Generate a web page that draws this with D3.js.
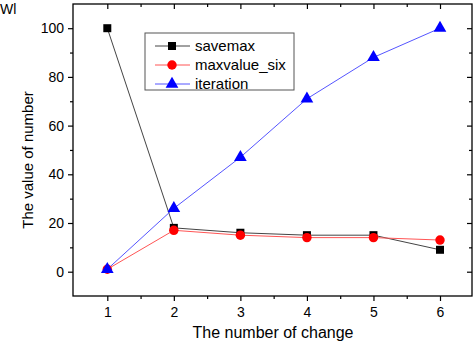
<!DOCTYPE html>
<html><head><meta charset="utf-8">
<script src="https://cdn.jsdelivr.net/npm/d3@7"></script>
<style>body{margin:0;background:#fff}svg{display:block;font-family:Arial,"Liberation Sans",sans-serif}</style>
</head><body>
<svg id="c" width="474" height="345"></svg>
<script>
const changes = [1, 2, 3, 4, 5, 6];
const savemax = [100, 18, 16, 15, 15, 9];
const maxvalueSix = [1, 17, 15, 14, 14, 13];
const iteration = [1, 26, 47, 71, 88, 100];
const seriesNames = ["savemax", "maxvalue_six", "iteration"];
const yTicks = [0, 20, 40, 60, 80, 100];
const xTicks = [1, 2, 3, 4, 5, 6];

const svg = d3.select("#c");
const L = 73, R = 472, T = 4, B = 296;
const y0 = 271.7, y100 = 28.2, per = (y0 - y100) / 100;
const y = d3.scaleLinear().domain([(y0 - B) / per, (y0 - T) / per]).range([B, T]);
const x1 = 107.3, x6 = 440, perx = (x6 - x1) / 5;
const x = d3.scaleLinear().domain([1 - (x1 - L) / perx, 1 + (R - x1) / perx]).range([L, R]);

const minorX = d3.range(1, 6.01, 0.5).filter(v => v % 1 !== 0);
const minorY = d3.range(10, 101, 20);

// axes
const gx = svg.append("g").attr("transform", `translate(0,${B})`)
  .call(d3.axisBottom(x).tickValues(xTicks).tickSize(5).tickPadding(6).tickFormat(d3.format("d")));
const gxm = svg.append("g").attr("transform", `translate(0,${B})`)
  .call(d3.axisBottom(x).tickValues(minorX).tickSize(3).tickFormat(""));
const gy = svg.append("g").attr("transform", `translate(${L},0)`)
  .call(d3.axisLeft(y).tickValues(yTicks).tickSize(5).tickPadding(4).tickFormat(d3.format("d")));
const gym = svg.append("g").attr("transform", `translate(${L},0)`)
  .call(d3.axisLeft(y).tickValues(minorY).tickSize(3).tickFormat(""));
const gt = svg.append("g").attr("transform", `translate(0,${T})`)
  .call(d3.axisTop(x).tickValues(xTicks).tickSize(-5).tickFormat(""));
const gtm = svg.append("g").attr("transform", `translate(0,${T})`)
  .call(d3.axisTop(x).tickValues(minorX).tickSize(-3).tickFormat(""));
const gr = svg.append("g").attr("transform", `translate(${R},0)`)
  .call(d3.axisRight(y).tickValues(yTicks).tickSize(-5).tickFormat(""));
const grm = svg.append("g").attr("transform", `translate(${R},0)`)
  .call(d3.axisRight(y).tickValues(minorY).tickSize(-3).tickFormat(""));
[gx, gxm, gy, gym, gt, gtm, gr, grm].forEach(g => {
  g.select(".domain").remove();
  g.selectAll("line").attr("stroke", "#000").attr("stroke-width", 1.2);
  g.selectAll("text").attr("font-size", 14).attr("fill", "#000").attr("font-family", "Arial, 'Liberation Sans', sans-serif");
});
svg.append("rect").attr("x", L).attr("y", T).attr("width", R - L).attr("height", B - T)
  .attr("fill", "none").attr("stroke", "#000").attr("stroke-width", 1.3);

// series
const data = [
  {name: seriesNames[0], vals: savemax, line: "#444", fill: "#000", sym: d3.symbolSquare, size: 64},
  {name: seriesNames[1], vals: maxvalueSix, line: "#ff5555", fill: "#ff0000", sym: d3.symbolCircle, size: 70},
  {name: seriesNames[2], vals: iteration, line: "#5555ff", fill: "#0000ff", sym: d3.symbolTriangle, size: 70}
];
const lineGen = d3.line().x((d, i) => x(changes[i])).y(d => y(d));
data.forEach(s => {
  svg.append("path").attr("d", lineGen(s.vals)).attr("fill", "none").attr("stroke", s.line).attr("stroke-width", 1);
});
data.forEach(s => {
  svg.selectAll(null).data(s.vals).enter().append("path")
    .attr("d", d3.symbol().type(s.sym).size(s.size))
    .attr("transform", (d, i) => `translate(${x(changes[i])},${y(d)})`)
    .attr("fill", s.fill);
});

// legend
const lg = svg.append("g");
lg.append("rect").attr("x", 145).attr("y", 33).attr("width", 149).attr("height", 57)
  .attr("fill", "#fff").attr("stroke", "#555").attr("stroke-width", 1);
data.forEach((s, i) => {
  const yy = 46 + i * 19;
  lg.append("line").attr("x1", 155).attr("x2", 190).attr("y1", yy).attr("y2", yy).attr("stroke", s.line).attr("stroke-width", 1);
  lg.append("path").attr("d", d3.symbol().type(s.sym).size(s.size)).attr("transform", `translate(172,${yy})`).attr("fill", s.fill);
  lg.append("text").attr("x", 195).attr("y", yy + 5).attr("font-size", 15).attr("fill", "#000").text(s.name);
});

// titles
svg.append("text").attr("x", 273).attr("y", 338).attr("text-anchor", "middle").attr("font-size", 16).text("The number of change");
svg.append("text").attr("transform", `translate(33,160) rotate(-90)`).attr("text-anchor", "middle").attr("font-size", 15).text("The value of number");
svg.append("text").attr("x", 0).attr("y", 14).attr("font-size", 14).text("Wl");
</script>
</body></html>
